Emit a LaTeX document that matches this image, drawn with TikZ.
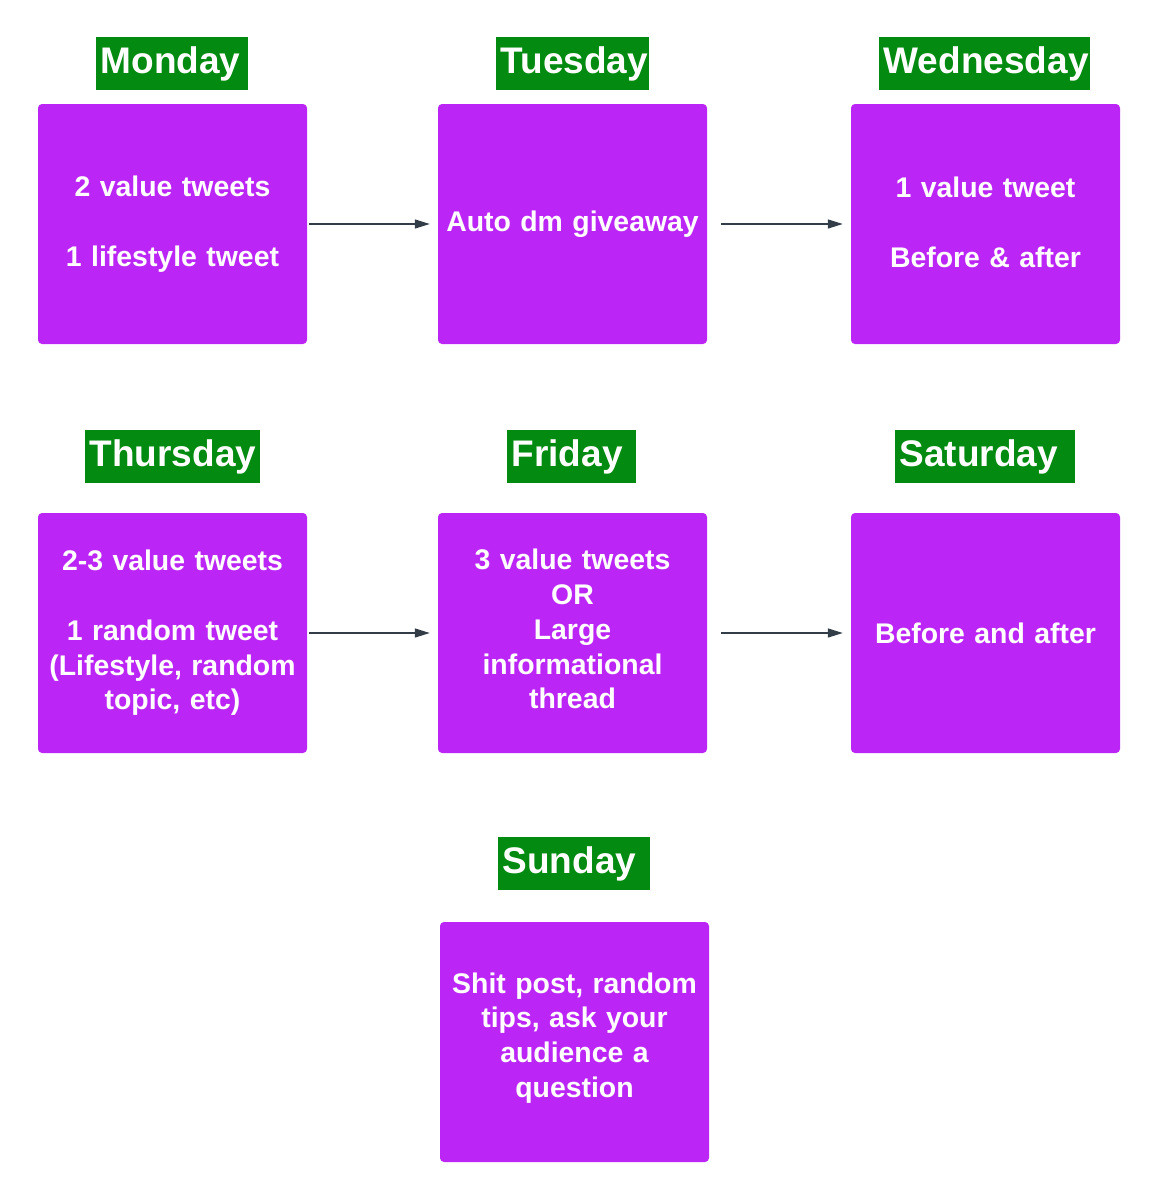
\documentclass[tikz,border=0pt]{standalone}
\usepackage{fontspec}
\setmainfont{Liberation Sans}
\usetikzlibrary{arrows.meta}
\definecolor{boxpurple}{HTML}{BB25F5}
\definecolor{daygreen}{HTML}{038A10}
\definecolor{arrowgray}{HTML}{333D47}
\newcommand{\lowpad}[1]{\rule[-#1]{0pt}{#1}}
\tikzset{
  daybox/.style={fill=boxpurple, draw=none, rounded corners=4pt, minimum width=269pt, minimum height=240pt, inner sep=0pt, text=white, align=center, text width=264pt, font=\fontsize{28.4}{34.8}\selectfont\bfseries},
  dayhead/.style={fill=daygreen, draw=none, anchor=north west, inner xsep=4.5pt, inner ysep=0pt, minimum height=53pt, text=white, align=left, text height=26.5pt, text depth=7.8pt, font=\fontsize{37}{40}\selectfont\bfseries},
  flow/.style={draw=arrowgray, line width=1.4pt, -{Triangle[length=15pt,width=9pt]}}
}
\begin{document}
\begin{tikzpicture}[x=1pt,y=-1pt]
\useasboundingbox (0,0) rectangle (1158,1200);
% headers
\node[dayhead, text width=143pt] (hmon) at (96,37) {Monday};
\node[dayhead, text width=144pt] (htue) at (496,37) {Tuesday};
\node[dayhead, text width=202pt] (hwed) at (879,37) {Wednesday};
\node[dayhead, text width=166pt] (hthu) at (85,430) {Thursday};
\node[dayhead, text width=120pt] (hfri) at (507,430) {Friday};
\node[dayhead, text width=171pt] (hsat) at (895,430) {Saturday};
\node[dayhead, text width=143pt] (hsun) at (498,837) {Sunday};
% boxes
\node[daybox] (mon) at (172.5,224) {2 value tweets\\ ~\\ 1 lifestyle tweet};
\node[daybox] (tue) at (572.5,224) {Auto dm giveaway};
\node[daybox] (wed) at (985.5,224) {1 value tweet\\ ~\\ Before \& after\lowpad{4pt}};
\node[daybox] (thu) at (172.5,633) {2-3 value tweets\\ ~\\ 1 random tweet\\ (Lifestyle, random\\ topic, etc)};
\node[daybox] (fri) at (572.5,633) {3 value tweets\\ OR\\ Large\\ informational\\ thread\lowpad{8pt}};
\node[daybox] (sat) at (985.5,633) {Before and after};
\node[daybox] (sun) at (574.5,1042) {Shit post, random\\ tips, ask your\\ audience a\\ question\lowpad{14pt}};
% connectors
\draw[flow, shorten <=2pt, shorten >=8pt] (mon.east) -- (tue.west);
\draw[flow, shorten <=14pt, shorten >=8pt] (tue.east) -- (wed.west);
\draw[flow, shorten <=2pt, shorten >=8pt] (thu.east) -- (fri.west);
\draw[flow, shorten <=14pt, shorten >=8pt] (fri.east) -- (sat.west);
\end{tikzpicture}
\end{document}
